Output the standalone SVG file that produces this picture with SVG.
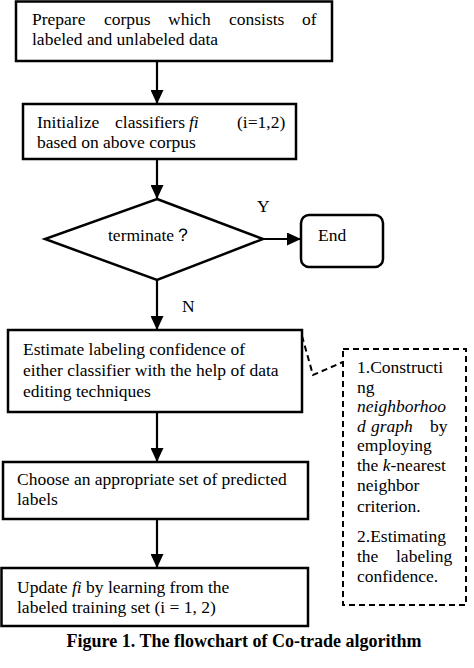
<svg xmlns="http://www.w3.org/2000/svg" width="474" height="668" viewBox="0 0 474 668">
<defs>
<marker id="ah" markerUnits="userSpaceOnUse" markerWidth="15" markerHeight="13" refX="14" refY="6.5" orient="auto">
<path d="M0,0 L14,6.5 L0,13 z" fill="#000"/>
</marker>
<style>
.box{fill:#fff;stroke:#000;stroke-width:2.5}
.t{font-family:"Liberation Serif","Times New Roman",serif;font-size:17.5px;fill:#000}
.it{font-style:italic}
.ln{stroke:#000;stroke-width:2.2;fill:none}
.dash{stroke:#000;stroke-width:2;fill:none;stroke-dasharray:6,4}
.cap{font-family:"Liberation Serif","Times New Roman",serif;font-size:18px;font-weight:bold;fill:#000}
</style>
</defs>
<rect width="474" height="668" fill="#fff"/>
<g id="connectors">
<line class="ln" x1="157" y1="62" x2="157" y2="104" marker-end="url(#ah)"/>
<line class="ln" x1="157" y1="160" x2="157" y2="199" marker-end="url(#ah)"/>
<line class="ln" x1="157" y1="280" x2="157" y2="330" marker-end="url(#ah)"/>
<line class="ln" x1="263" y1="239" x2="301" y2="239" marker-end="url(#ah)"/>
<line class="ln" x1="157" y1="412" x2="157" y2="462" marker-end="url(#ah)"/>
<line class="ln" x1="157" y1="519" x2="157" y2="568" marker-end="url(#ah)"/>
<polyline class="dash" points="302,336 313,375 343,362"/>
<text class="t" x="257" y="212">Y</text>
<text class="t" x="182" y="312">N</text>
</g>
<g id="prepare">
<rect class="box" x="16" y="1.5" width="316" height="59.5"/>
<text class="t" y="25"><tspan x="32">Prepare</tspan><tspan x="104">corpus</tspan><tspan x="168">which</tspan><tspan x="229">consists</tspan><tspan x="302">of</tspan></text>
<text class="t" x="32" y="45">labeled and unlabeled data</text>
</g>
<g id="init">
<rect class="box" x="23" y="104" width="273" height="55"/>
<text class="t" y="128"><tspan x="37">Initialize</tspan><tspan x="115">classifiers</tspan><tspan x="189" class="it">fi</tspan><tspan x="237">(i=1,2)</tspan></text>
<text class="t" x="37" y="148">based on above corpus</text>
</g>
<g id="terminate">
<polygon class="box" points="157,199 263,239 157,280 45,239"/>
<text class="t" x="108" y="241">terminate？</text>
</g>
<g id="end">
<rect class="box" x="301" y="215" width="82" height="52" rx="8"/>
<text class="t" x="318" y="241">End</text>
</g>
<g id="estimate">
<rect class="box" x="8" y="330" width="294" height="82"/>
<text class="t" x="23" y="355">Estimate labeling confidence of</text>
<text class="t" x="23" y="376">either classifier with the help of data</text>
<text class="t" x="23" y="397">editing techniques</text>
</g>
<g id="choose">
<rect class="box" x="3" y="462" width="305" height="57"/>
<text class="t" x="17" y="485">Choose an appropriate set of predicted</text>
<text class="t" x="17" y="505">labels</text>
</g>
<g id="update">
<rect class="box" x="1.5" y="568" width="306.5" height="58"/>
<text class="t" y="593"><tspan x="17">Update </tspan><tspan class="it">fi</tspan><tspan> by learning from the</tspan></text>
<text class="t" x="17" y="613">labeled training set (i = 1, 2)</text>
</g>
<g id="note">
<rect class="dash" x="343" y="349" width="123" height="256"/>
<text class="t" x="357" y="373">1.Constructi</text>
<text class="t" x="357" y="393">ng</text>
<text class="t it" x="357" y="412">neighborhoo</text>
<text class="t" y="432"><tspan x="357" class="it">d</tspan><tspan x="371" class="it">graph</tspan><tspan x="430">by</tspan></text>
<text class="t" x="357" y="451">employing</text>
<text class="t" x="357" y="471">the <tspan class="it">k</tspan>-nearest</text>
<text class="t" x="357" y="491">neighbor</text>
<text class="t" x="357" y="512">criterion.</text>
<text class="t" x="357" y="542">2.Estimating</text>
<text class="t" y="562"><tspan x="357">the</tspan><tspan x="396">labeling</tspan></text>
<text class="t" x="357" y="582">confidence.</text>
</g>
<text class="cap" x="244" y="647" text-anchor="middle">Figure 1. The flowchart of Co-trade algorithm</text>
</svg>
